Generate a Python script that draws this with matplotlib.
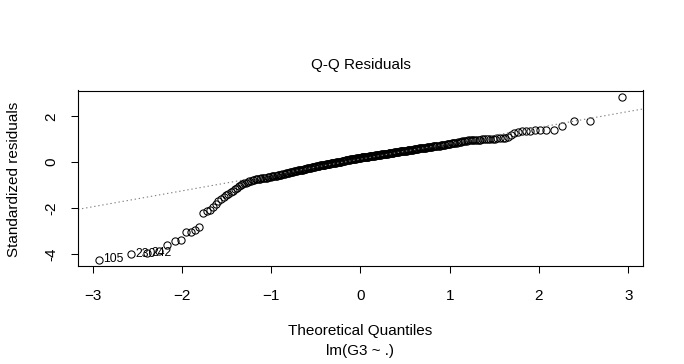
import numpy as np
from statistics import NormalDist
import matplotlib
matplotlib.use("Agg")
import matplotlib.pyplot as plt

plt.rcParams['font.family'] = ['Liberation Sans', 'DejaVu Sans']

# sorted standardized residuals
resid = [
    -4.25, -4.02, -3.96, -3.89, -3.61, -3.42, -3.38, -3.07, -3.03, -2.94,
    -2.84, -2.24, -2.15, -2.07, -1.96, -1.82, -1.70, -1.62, -1.53, -1.45,
    -1.37, -1.31, -1.25, -1.18, -1.11, -1.06, -1.01, -0.96, -0.92, -0.89,
    -0.86, -0.83, -0.80, -0.78, -0.76, -0.75, -0.74, -0.73, -0.72, -0.71,
    -0.70, -0.69, -0.68, -0.67, -0.66, -0.65, -0.64, -0.62, -0.61, -0.60,
    -0.59, -0.58, -0.57, -0.56, -0.55, -0.54, -0.52, -0.51, -0.50, -0.49,
    -0.47, -0.46, -0.45, -0.44, -0.43, -0.42, -0.41, -0.40, -0.39, -0.38,
    -0.37, -0.36, -0.35, -0.34, -0.33, -0.32, -0.32, -0.31, -0.30, -0.29,
    -0.28, -0.27, -0.26, -0.25, -0.24, -0.24, -0.23, -0.22, -0.21, -0.20,
    -0.19, -0.18, -0.17, -0.17, -0.16, -0.15, -0.14, -0.14, -0.13, -0.12,
    -0.11, -0.10, -0.10, -0.09, -0.08, -0.08, -0.07, -0.07, -0.06, -0.05,
    -0.05, -0.04, -0.04, -0.03, -0.02, -0.02, -0.01, 0.00, 0.01, 0.01,
    0.02, 0.03, 0.03, 0.04, 0.05, 0.06, 0.06, 0.07, 0.08, 0.08,
    0.09, 0.10, 0.10, 0.11, 0.12, 0.12, 0.13, 0.14, 0.14, 0.15,
    0.15, 0.16, 0.17, 0.17, 0.18, 0.18, 0.19, 0.20, 0.20, 0.21,
    0.21, 0.22, 0.22, 0.23, 0.23, 0.24, 0.24, 0.25, 0.25, 0.26,
    0.26, 0.27, 0.27, 0.28, 0.28, 0.29, 0.29, 0.30, 0.30, 0.31,
    0.31, 0.32, 0.32, 0.33, 0.33, 0.34, 0.35, 0.35, 0.36, 0.36,
    0.37, 0.37, 0.38, 0.38, 0.39, 0.39, 0.40, 0.40, 0.41, 0.42,
    0.42, 0.43, 0.43, 0.44, 0.44, 0.45, 0.45, 0.46, 0.47, 0.47,
    0.48, 0.48, 0.49, 0.49, 0.50, 0.51, 0.51, 0.52, 0.52, 0.53,
    0.54, 0.54, 0.55, 0.55, 0.56, 0.57, 0.57, 0.58, 0.58, 0.59,
    0.60, 0.60, 0.61, 0.61, 0.62, 0.63, 0.63, 0.64, 0.65, 0.65,
    0.66, 0.67, 0.67, 0.68, 0.69, 0.69, 0.70, 0.71, 0.72, 0.72,
    0.73, 0.74, 0.75, 0.76, 0.77, 0.77, 0.78, 0.79, 0.80, 0.81,
    0.82, 0.83, 0.84, 0.85, 0.86, 0.88, 0.89, 0.90, 0.91, 0.92,
    0.93, 0.94, 0.95, 0.95, 0.96, 0.97, 0.97, 0.98, 0.99, 0.99,
    1.00, 1.01, 1.01, 1.02, 1.02, 1.03, 1.03, 1.04, 1.04, 1.05,
    1.07, 1.10, 1.20, 1.28, 1.32, 1.35, 1.37, 1.38, 1.39, 1.40,
    1.41, 1.42, 1.59, 1.78, 1.79, 2.85,
]
# labels of the three most extreme points (lowest first)
point_ids = ["105", "230", "242"]

x_ticks = [-3, -2, -1, 0, 1, 2, 3]
y_ticks = [-4, -2, 0, 2]

resid = np.array(resid)
n = len(resid)
nd = NormalDist()
theo = np.array([nd.inv_cdf((i - 0.5) / n) for i in range(1, n + 1)])

# qqline through the quartiles, like R
yq = np.quantile(resid, [0.25, 0.75])
xq = np.array([nd.inv_cdf(0.25), nd.inv_cdf(0.75)])
slope = (yq[1] - yq[0]) / (xq[1] - xq[0])
inter = yq[0] - slope * xq[0]

fig = plt.figure(figsize=(6.84, 3.64), dpi=100)
ax = fig.add_axes([78 / 684, 1 - 266 / 364, (643 - 78) / 684, (266 - 90.5) / 364])

ax.plot(theo, resid, 'o', mfc='none', mec='black', ms=5.2, mew=0.75)
ax.margins(0.04)
ax.axline((0, inter), slope=slope, color='#7f7f7f', lw=0.8, ls=(0, (1.2, 2.5)))

for k, lab in enumerate(point_ids):
    ax.annotate(lab, (theo[k], resid[k]), xytext=(3.0, 0), textcoords='offset points',
                ha='left', va='center', fontsize=8.8)

ax.set_xticks(x_ticks)
ax.set_yticks(y_ticks)
ax.set_yticklabels([str(v) for v in y_ticks], rotation=90, va='center')
ax.tick_params(direction='out', length=5, width=0.75, labelsize=11, pad=11.5, colors='black')
ax.tick_params(axis='y', pad=9)
for s in ax.spines.values():
    s.set_linewidth(0.8)

fig.text(0.527, 1 - 65 / 364, "Q-Q Residuals", ha='center', va='center', fontsize=11)
fig.text(0.527, 1 - 331 / 364, "Theoretical Quantiles", ha='center', va='center', fontsize=11)
fig.text(0.527, 1 - 351 / 364, "lm(G3 ~ .)", ha='center', va='center', fontsize=11)
fig.text(14 / 684, 1 - 179 / 364, "Standardized residuals", ha='center', va='center',
         rotation=90, fontsize=11)

fig.savefig("out.png", dpi=100)
